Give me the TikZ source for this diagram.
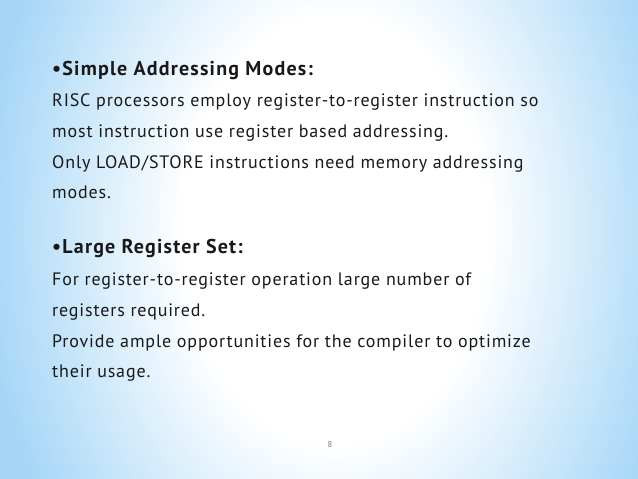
\documentclass[tikz,border=0pt]{standalone}
\usepackage{fontspec}
\setmainfont{PT Sans}
\newfontfamily\bodyfont[LetterSpace=4.7]{PT Sans}
\newfontfamily\headfont[LetterSpace=6]{PT Sans Bold}
\usetikzlibrary{fadings}
\definecolor{bgblue}{RGB}{165,214,247}
\definecolor{txt}{RGB}{25,25,25}
\definecolor{pgnum}{RGB}{128,128,128}
\pgfdeclareradialshading{bgshade}{\pgfpoint{0bp}{0bp}}{color(0bp)=(white); color(6bp)=(white); color(14bp)=(bgblue); color(100bp)=(bgblue)}
\tikzfading[name=bandfade, top color=transparent!100, middle color=transparent!55, bottom color=transparent!100]
\tikzfading[name=lightfade, top color=transparent!100, middle color=transparent!65, bottom color=transparent!100]
\tikzset{
  head/.style={anchor=base west, inner sep=0pt, text=txt, font=\headfont\fontsize{20}{23}\selectfont},
  body/.style={anchor=base west, inner sep=0pt, text=txt, font=\bodyfont\fontsize{18}{21}\selectfont},
  pnum/.style={anchor=base, inner sep=0pt, text=pgnum, font=\fontsize{8.5}{10}\selectfont}
}
\begin{document}
\begin{tikzpicture}[x=1pt,y=1pt]
\useasboundingbox (0,0) rectangle (638,-479);
\begin{scope}
\clip (0,0) rectangle (638,-479);
\fill[bgblue] (0,0) rectangle (638,-479);
\shade[shading=bgshade] (-295,659) rectangle (965,-1119);
\fill[bgblue, path fading=bandfade] (0,-308) rectangle (638,-332);
\fill[white, path fading=lightfade] (0,-326) rectangle (638,-352);
\fill[bgblue, path fading=bandfade] (0,-348) rectangle (638,-362);
\end{scope}
\node[head] (h1) at (52,-75) {•Simple Addressing Modes:};
\node[body] (l1) at (52,-106) {RISC processors employ register-to-register instruction so};
\node[body] (l2) at (52,-137) {most instruction use register based addressing.};
\node[body] (l3) at (52,-168) {Only LOAD/STORE instructions need memory addressing};
\node[body] (l4) at (52,-198) {modes.};
\node[head] (h2) at (52,-253) {•Large Register Set:};
\node[body] (m1) at (52,-285) {For register-to-register operation large number of};
\node[body] (m2) at (52,-316) {registers required.};
\node[body] (m3) at (52,-347) {Provide ample opportunities for the compiler to optimize};
\node[body] (m4) at (52,-377) {their usage.};
\node[pnum] (pg) at (330,-447) {8};
\end{tikzpicture}
\end{document}
